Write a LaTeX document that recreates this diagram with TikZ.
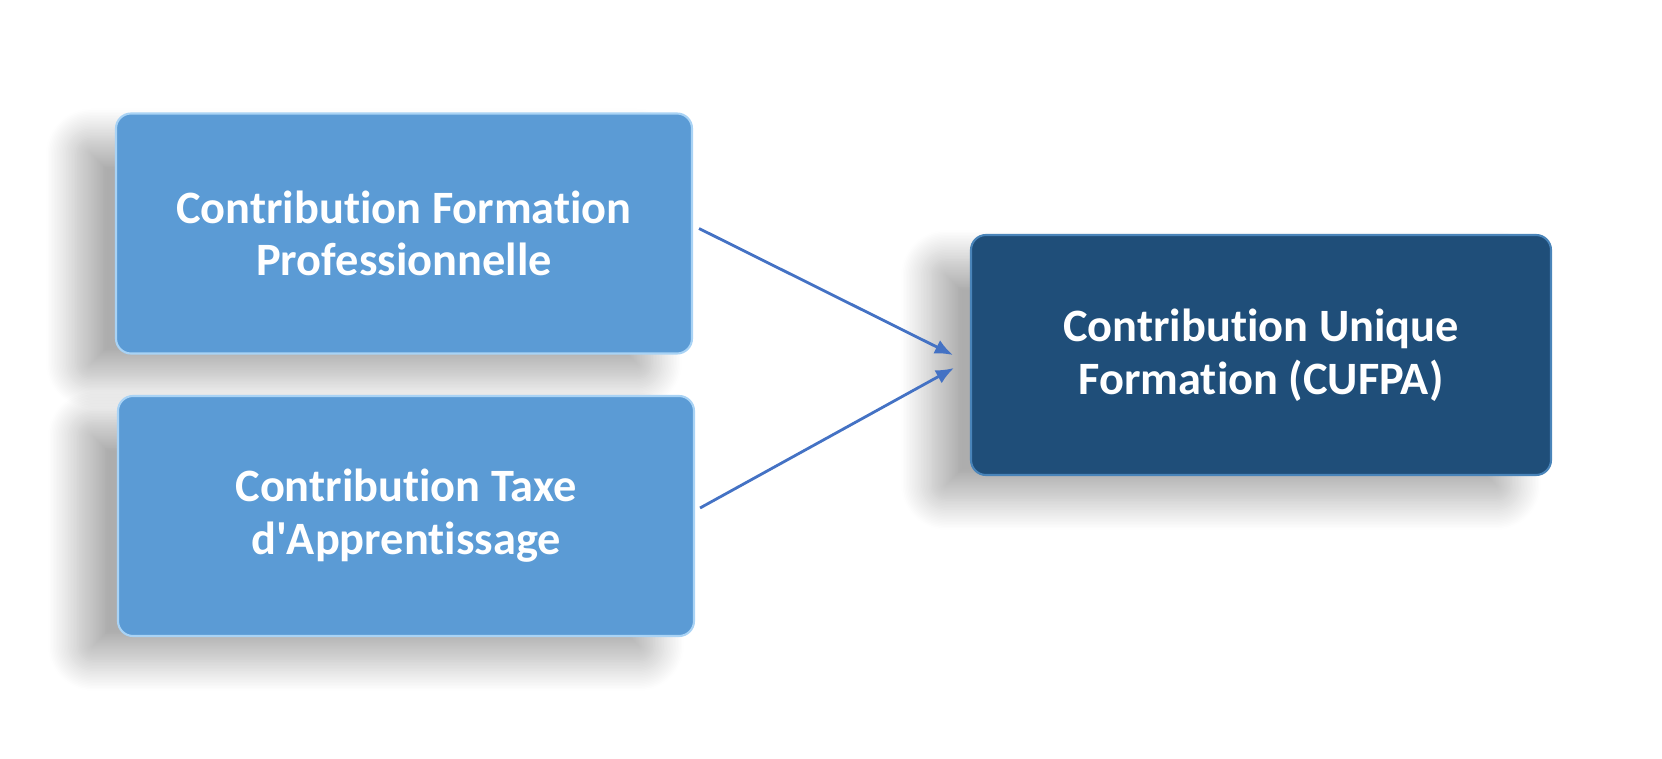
\documentclass[tikz,border=0pt]{standalone}
\usepackage{fontspec}
\setmainfont[Ligatures=NoCommon]{Carlito}
\usetikzlibrary{arrows.meta,shadows.blur}
\definecolor{cufLight}{HTML}{5B9BD5}
\definecolor{cufDark}{HTML}{1F4E79}
\definecolor{cufArrow}{HTML}{4472C4}
\definecolor{cufEdge}{HTML}{A9D3F5}
\tikzset{
  cuf box/.style={rounded corners=0.15cm, minimum width=5.76cm, minimum height=2.4cm, inner sep=0pt,
    align=center, text=white, font=\bfseries\fontsize{13.2}{15}\selectfont,
    blur shadow={shadow xshift=-0.4cm, shadow yshift=-0.25cm, shadow blur radius=0.3cm,
      shadow blur steps=20, shadow opacity=32}},
  cuf light/.style={cuf box, fill=cufLight, draw=cufEdge, line width=0.6pt},
  cuf dark/.style={cuf box, fill=cufDark, draw=cufLight!70!cufDark, line width=0.6pt},
  cuf arrow/.style={draw=cufArrow, line width=0.8pt, -{Latex[length=1.8mm,width=1.5mm]}},
}

\begin{document}
\begin{tikzpicture}
  \useasboundingbox (0,0) rectangle (16.62,7.59);
  \node[cuf light] (cfp) at (4.04,5.255) {Contribution Formation\\Professionnelle};
  \node[cuf light] (cta) at (4.06,2.43) {Contribution Taxe\\d\textquotesingle Apprentissage};
  \node[cuf dark, minimum width=5.8cm] (cufpa) at (12.61,4.04) {Contribution Unique\\Formation (CUFPA)};
  \coordinate (in1) at ([shift={(-0.17,0.0)}]cufpa.west);
  \coordinate (in2) at ([shift={(-0.16,-0.13)}]cufpa.west);
  \draw[cuf arrow] ([shift={(0.06,0.05)}]cfp.east) -- (in1);
  \draw[cuf arrow] ([shift={(0.05,0.08)}]cta.east) -- (in2);
\end{tikzpicture}
\end{document}
